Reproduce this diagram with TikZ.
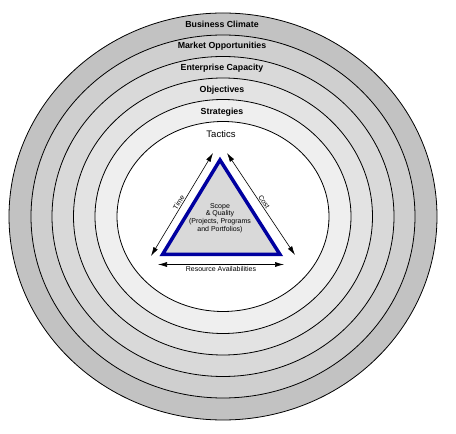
\documentclass[tikz,border=0pt]{standalone}
\usepackage{fontspec}
\setmainfont{Liberation Sans}
\usetikzlibrary{arrows.meta}
\definecolor{ringa}{HTML}{C2C2C2}
\definecolor{ringb}{HTML}{CFCFCF}
\definecolor{ringc}{HTML}{D9D9D9}
\definecolor{ringd}{HTML}{E3E3E3}
\definecolor{ringe}{HTML}{EFEFEF}
\definecolor{triblue}{HTML}{0000A0}
\definecolor{trigray}{HTML}{D9D9D9}

\begin{document}
\begin{tikzpicture}[thick, x=1pt, y=1pt,
    band/.style={inner sep=0pt, font=\bfseries\fontsize{8.8}{10}\selectfont},
    small/.style={inner sep=1pt, font=\fontsize{7}{7.6}\selectfont},
    twoway/.style={line width=0.6pt, {Latex[length=9pt,width=5pt]}-{Latex[length=9pt,width=5pt]}}]
            \useasboundingbox (0,0) rectangle (456,434);
            \draw[line width=0.8pt, fill=ringa] (223,217.5) ellipse [x radius=214pt, y radius=203.5pt];
            \draw[line width=0.8pt, fill=ringb] (223,217.5) ellipse [x radius=192pt, y radius=181.5pt];
            \draw[line width=0.8pt, fill=ringc] (223,217.5) ellipse [x radius=171pt, y radius=160pt];
            \draw[line width=0.8pt, fill=ringd] (223,217.5) ellipse [x radius=149.5pt, y radius=138.5pt];
            \draw[line width=0.8pt, fill=ringe] (223,217.5) ellipse [x radius=128pt, y radius=117pt];
            \draw[line width=0.8pt, fill=white] (223,217.5) ellipse [x radius=106pt, y radius=95pt];
            \node[band] (climate)    at (222,410) {Business Climate};
            \node[band] (market)     at (222,388) {Market Opportunities};
            \node[band] (capacity)   at (222,366) {Enterprise Capacity};
            \node[band] (objectives) at (222,344) {Objectives};
            \node[band] (strategies) at (222,322) {Strategies};
            \node[inner sep=0pt, font=\fontsize{9.5}{10}\selectfont] (tactics) at (221,300) {Tactics};
            \coordinate (top) at (220,274);
            \coordinate (bl)  at (162.5,179.5);
            \coordinate (br)  at (280,179.5);
            \draw[line width=3.5pt, draw=triblue, fill=trigray] (top) -- (bl) -- (br) -- cycle;
            \node[small, align=center] (scope) at (220,216) {Scope\\\& Quality\\(Projects, Programs\\and Portfolios)};
            \coordinate (t1) at (151,178);
            \coordinate (t2) at (213,281);
            \coordinate (c1) at (227,281);
            \coordinate (c2) at (295,179);
            \coordinate (r1) at (158,169.5);
            \coordinate (r2) at (284,169.5);
            \draw[twoway] (t1) -- (t2) node [midway, sloped, above, small] (time) {Time};
            \draw[twoway] (c1) -- (c2) node [midway, sloped, above, small] (cost) {Cost};
            \draw[twoway] (r1) -- (r2) node [midway, below, small, yshift=-1pt] (resource) {Resource Availabilities};
        \end{tikzpicture}
\end{document}
